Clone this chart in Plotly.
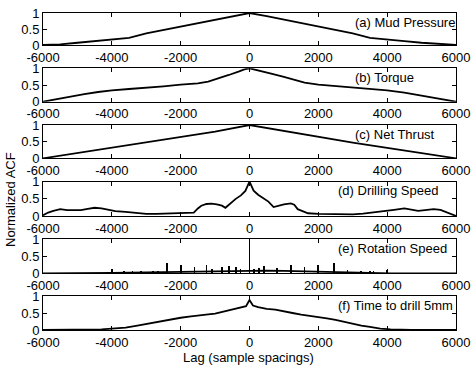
import plotly.graph_objects as go
from plotly.subplots import make_subplots

x_ticks = [-6000, -4000, -2000, 0, 2000, 4000, 6000]
x_ticktext = ["-6000", "-4000", "-2000", "0", "2000", "4000", "6000"]
y_ticks = [0, 0.5, 1]
y_ticktext = ["0", "0.5", "1"]

labels = ["(a) Mud Pressure", "(b) Torque", "(c) Net Thrust",
          "(d) Drilling Speed", "(e) Rotation Speed", "(f) Time to drill 5mm"]
label_x = [3000, 3000, 3000, 2500, 2500, 2500]

mud_lag = [-6000, -5500, -5000, -4500, -4000, -3500, -3000, -2500, -2000, -1500, -1000, -500, 0,
           500, 1000, 1500, 2000, 2500, 3000, 3500, 4000, 4500, 5000, 5500, 6000]
mud_acf = [0, 0.02, 0.07, 0.12, 0.16, 0.22, 0.36, 0.47, 0.58, 0.69, 0.79, 0.9, 1.0,
           0.9, 0.79, 0.68, 0.58, 0.47, 0.36, 0.22, 0.16, 0.12, 0.07, 0.03, 0]

torque_lag = [-6000, -5600, -5200, -4800, -4400, -4000, -3500, -3000, -2500, -2000, -1500, -1200,
              -900, -600, -300, -150, 0, 300, 600, 1000, 1300, 1600, 2000, 2500, 3000, 3500,
              4000, 4500, 5000, 5500, 6000]
torque_acf = [0, 0.08, 0.16, 0.23, 0.29, 0.34, 0.38, 0.41, 0.46, 0.51, 0.55, 0.6,
              0.69, 0.8, 0.91, 0.97, 1.0, 0.93, 0.85, 0.74, 0.65, 0.57, 0.51, 0.47, 0.44, 0.39,
              0.34, 0.27, 0.18, 0.09, 0]

thrust_lag = [-6000, -5500, -5000, -4000, -3000, -2000, -1000, 0, 1000, 2000, 3000, 4000, 5000, 5500, 6000]
thrust_acf = [0, 0.08, 0.15, 0.31, 0.47, 0.63, 0.8, 1.0, 0.82, 0.63, 0.47, 0.31, 0.16, 0.08, 0]

drill_lag = [-6000, -5850, -5700, -5500, -5300, -5100, -4900, -4700, -4500, -4300, -4100, -3900,
             -3600, -3300, -3000, -2700, -2400, -2000, -1750, -1620, -1500, -1400, -1250, -1100,
             -950, -800, -700, -550, -400, -250, -120, 0, 120, 250, 400, 550, 700, 850, 1000,
             1200, 1300, 1400, 1550, 1700, 2000, 2500, 3000, 3300, 3600, 3900, 4200, 4500, 4700,
             4900, 5100, 5350, 5550, 5700, 5850, 6000]
drill_acf = [0.02, 0.1, 0.15, 0.2, 0.17, 0.16, 0.17, 0.21, 0.24, 0.22, 0.18, 0.14,
             0.12, 0.09, 0.06, 0.06, 0.07, 0.07, 0.09, 0.1, 0.22, 0.3, 0.35, 0.36,
             0.34, 0.3, 0.24, 0.38, 0.5, 0.6, 0.73, 1.0, 0.74, 0.62, 0.52, 0.42, 0.26, 0.3, 0.34,
             0.37, 0.33, 0.2, 0.13, 0.08, 0.06, 0.05, 0.05, 0.07, 0.1, 0.15, 0.18, 0.22, 0.19,
             0.15, 0.17, 0.2, 0.18, 0.12, 0.07, 0.0]

rot_base_lag = [-6000, -4100, -4000, -3000, -2000, -1000, -500, 0, 500, 1000, 2000, 3000, 3500, 4000, 4100, 6000]
rot_base_acf = [0, 0, 0.01, 0.03, 0.05, 0.07, 0.08, 0.09, 0.08, 0.07, 0.05, 0.03, 0.02, 0.01, 0, 0]
rot_spike_lag = [-4000, -3650, -3400, -3150, -2800, -2650, -2400, -2000, -1600, -1250, -1100,
                 -800, -600, -400, -260, 0, 130, 270, 420, 800, 1200, 1600, 2000, 2450, 2850,
                 3250, 3500, 3600, 4000]
rot_spike_acf = [0.13, 0.07, 0.06, 0.06, 0.08, 0.06, 0.31, 0.25, 0.18, 0.24, 0.12,
                 0.18, 0.22, 0.2, 0.13, 1.0, 0.13, 0.16, 0.22, 0.16, 0.24, 0.2, 0.24, 0.3, 0.1,
                 0.07, 0.06, 0.07, 0.09]

time_lag = [-6000, -4600, -4300, -4000, -3600, -3300, -3000, -2700, -2500, -2200, -2000, -1700,
            -1500, -1200, -1000, -700, -500, -250, -100, 0, 100, 250, 500, 750, 1000, 1250, 1500,
            1750, 2000, 2250, 2500, 2750, 3000, 3250, 3500, 3800, 4100, 4500, 4700, 6000]
time_acf = [0, 0, 0.02, 0.04, 0.07, 0.12, 0.18, 0.24, 0.28, 0.33, 0.36, 0.4,
            0.43, 0.46, 0.48, 0.55, 0.6, 0.66, 0.7, 0.88, 0.72, 0.67, 0.62, 0.6, 0.56, 0.5, 0.45,
            0.42, 0.38, 0.34, 0.3, 0.24, 0.18, 0.13, 0.09, 0.04, 0.02, 0.01, 0, 0]

W, H = 474, 371
ML, MR, MT, MB = 43, 18, 13, 41
panel_px = [(13, 45), (68.3, 101.7), (125, 158.3), (181.7, 216), (239.3, 273.3), (296, 330)]
ph = H - MT - MB
pw = W - ML - MR

fig = make_subplots(rows=6, cols=1)

line = dict(color="black", width=1.8)
fig.add_trace(go.Scatter(x=mud_lag, y=mud_acf, mode="lines", line=line), row=1, col=1)
fig.add_trace(go.Scatter(x=torque_lag, y=torque_acf, mode="lines", line=line), row=2, col=1)
fig.add_trace(go.Scatter(x=thrust_lag, y=thrust_acf, mode="lines", line=line), row=3, col=1)
fig.add_trace(go.Scatter(x=drill_lag, y=drill_acf, mode="lines", line=line), row=4, col=1)
fig.add_trace(go.Scatter(x=rot_base_lag, y=rot_base_acf, mode="lines", line=line), row=5, col=1)
fig.add_trace(go.Bar(x=rot_spike_lag, y=rot_spike_acf, width=50,
                     marker=dict(color="black", line=dict(width=0))), row=5, col=1)
fig.add_trace(go.Scatter(x=time_lag, y=time_acf, mode="lines", line=line), row=6, col=1)

font = dict(family="Liberation Sans, Arial, sans-serif", size=13, color="black")

for i, (top, bot) in enumerate(panel_px):
    n = i + 1
    d0 = (MT + ph - bot) / ph
    d1 = (MT + ph - top) / ph
    fig.update_xaxes(range=[-6000, 6000], tickvals=x_ticks, ticktext=x_ticktext, domain=[0, 1],
                     ticks="inside", ticklen=4, tickcolor="black", mirror="ticks",
                     showline=True, linecolor="black", linewidth=1, showgrid=False,
                     zeroline=False, tickfont=font, automargin=False, row=n, col=1)
    fig.update_yaxes(range=[0, 1], tickvals=y_ticks, ticktext=y_ticktext,
                     domain=[max(d0, 0), min(d1, 1)],
                     ticks="inside", ticklen=4, tickcolor="black", mirror="ticks",
                     showline=True, linecolor="black", linewidth=1, showgrid=False,
                     zeroline=False, tickfont=font, automargin=False, row=n, col=1)
    xr = "x" if n == 1 else "x%d" % n
    yr = "y" if n == 1 else "y%d" % n
    fig.add_annotation(x=label_x[i], xref=xr, y=1, yref=yr + " domain", yshift=-9,
                       text=labels[i], showarrow=False, xanchor="left", yanchor="middle", font=font)

fig.add_annotation(text="Normalized ACF", x=(10 - ML) / pw, xref="paper",
                   y=(MT + ph - 200) / ph, yref="paper", showarrow=False,
                   textangle=-90, xanchor="center", yanchor="middle", font=font)
fig.add_annotation(text="Lag (sample spacings)", x=(248 - ML) / pw, xref="paper",
                   y=(MT + ph - 357) / ph, yref="paper", showarrow=False,
                   xanchor="center", yanchor="middle", font=font)

fig.update_layout(width=W, height=H, margin=dict(l=ML, r=MR, t=MT, b=MB, autoexpand=False),
                  showlegend=False, plot_bgcolor="white", paper_bgcolor="white",
                  font=font, bargap=0, hovermode=False)

fig.write_html("out.html", config={"displayModeBar": False, "staticPlot": True},
               post_script="document.body.style.margin='0px';document.body.style.padding='0px';")
